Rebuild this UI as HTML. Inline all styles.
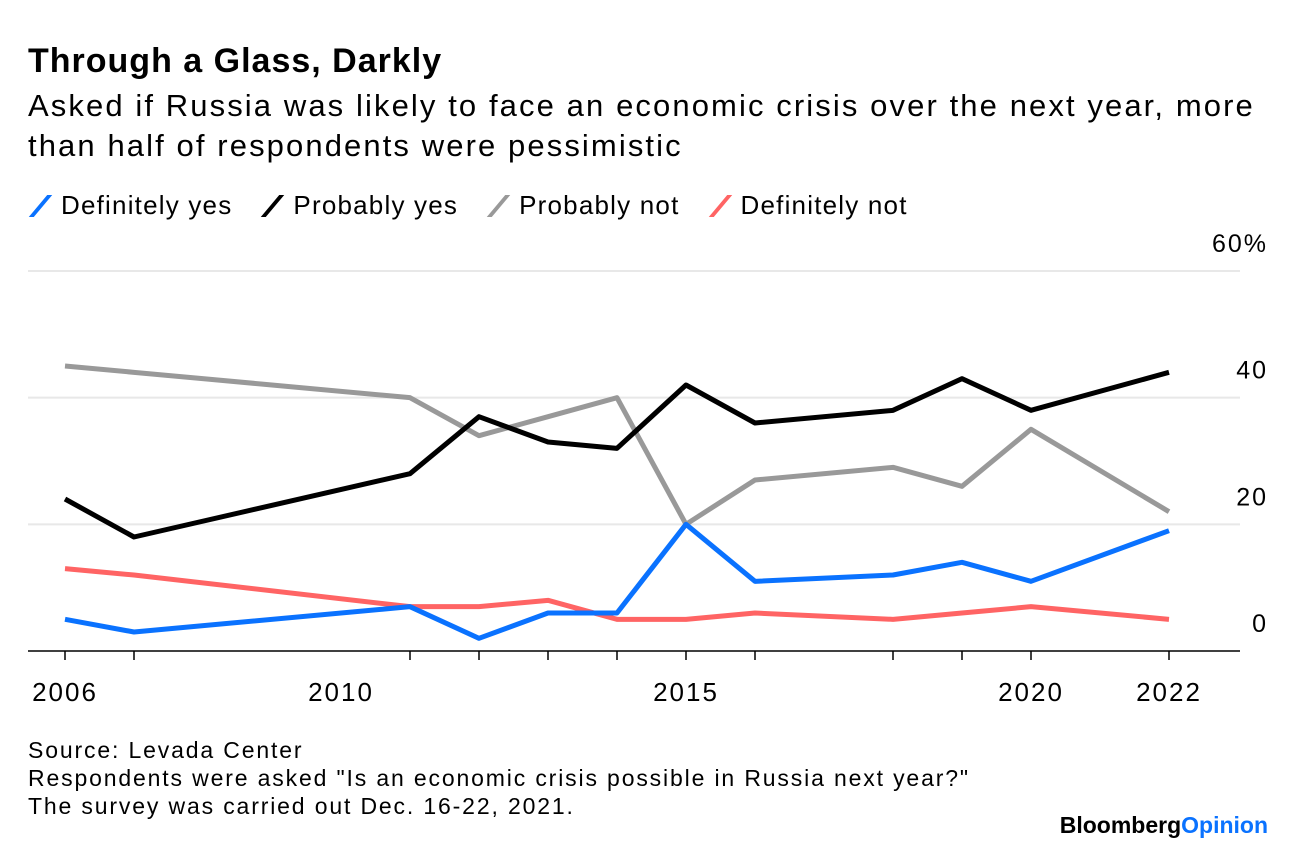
<!DOCTYPE html>
<html><head><meta charset="utf-8"><style>
body{margin:0;width:1296px;height:850px;background:#fff;font-family:"Liberation Sans",sans-serif;overflow:hidden;position:relative}
.t{position:absolute;left:28px;top:42px;font-size:34px;font-weight:bold;letter-spacing:1px;color:#000}
.s{position:absolute;left:28px;top:86px;font-size:31px;letter-spacing:2.1px;line-height:40px;color:#000;width:1262px}
.lg{position:absolute;top:190px;left:28px;font-size:26px;letter-spacing:1.2px;display:flex}
.lg span{display:inline-flex;align-items:center;margin-right:28px}
.lg i{display:inline-block;width:5px;height:22px;transform:skewX(-40deg);margin:0 18px 0 10px}
.f{position:absolute;left:28px;top:736px;font-size:23px;letter-spacing:1.85px;line-height:28px}
.b{position:absolute;right:28px;top:812px;font-size:23px;font-weight:bold;letter-spacing:0px}
</style></head><body>
<div class="t">Through a Glass, Darkly</div>
<div class="s">Asked if Russia was likely to face an economic crisis over the next year, more than half of respondents were pessimistic</div>
<div class="lg">
<span><i style="background:#0a72ff"></i>Definitely yes</span>
<span><i style="background:#000"></i>Probably yes</span>
<span><i style="background:#999"></i>Probably not</span>
<span><i style="background:#ff6464"></i>Definitely not</span>
</div>
<svg id="c" width="1296" height="850" style="position:absolute;left:0;top:0"></svg>
<div class="f">Source: Levada Center<br>Respondents were asked "Is an economic crisis possible in Russia next year?"<br>The survey was carried out Dec. 16-22, 2021.</div>
<div class="b">Bloomberg<span style="color:#0a72ff">Opinion</span></div>
<script>
const years=[2006,2007,2011,2012,2013,2014,2015,2016,2018,2019,2020,2022];
const definitelyYes=[5,3,7,2,6,6,20,11,12,14,11,19];
const probablyYes=[24,18,28,37,33,32,42,36,38,43,38,44];
const probablyNot=[45,44,40,34,37,40,20,27,29,26,35,22];
const definitelyNot=[13,12,7,7,8,5,5,6,5,6,7,5];
const yTicks=[0,20,40,60];
const yTickLabels=["0","20","40","60%"];
const xTicks=[2006,2010,2015,2020,2022];
const NS="http://www.w3.org/2000/svg",svg=document.getElementById('c');
const x=v=>65+(v-2006)*(1169-65)/16;
const y=v=>651-v*(651-271)/60;
function mk(t,a){const e=document.createElementNS(NS,t);for(const k in a)e.setAttribute(k,a[k]);svg.appendChild(e);return e;}
yTicks.forEach((t,i)=>{
 if(t>0){const g=mk('line',{x1:28,x2:1240,y1:y(t),y2:y(t),stroke:'#e8e8e8','stroke-width':2});
 
 }
 const l=mk('text',{x:1268,y:y(t)-19,'text-anchor':'end','font-size':25,'letter-spacing':2,'font-family':'Liberation Sans'});
 l.textContent=yTickLabels[i];
 
 
});
const ax=mk('line',{x1:28,x2:1240,y1:651,y2:651,stroke:'#000','stroke-width':1.5});


years.forEach(v=>{const t=mk('line',{x1:x(v),x2:x(v),y1:651,y2:660,stroke:'#000','stroke-width':1.5});
 
 });
xTicks.forEach(v=>{const l=mk('text',{x:x(v),y:701,'text-anchor':'middle','font-size':26,'letter-spacing':2,'font-family':'Liberation Sans'});
 l.textContent=v;
 
 });
[[probablyNot,'#999','probably-not'],[definitelyNot,'#ff6464','definitely-not'],[probablyYes,'#000','probably-yes'],[definitelyYes,'#0a72ff','definitely-yes']].forEach(([d,c,n])=>{
 const p=mk('polyline',{points:d.map((v,i)=>x(years[i])+','+y(v)).join(' '),fill:'none',stroke:c,'stroke-width':5,'stroke-linejoin':'round'});
 
 
});
</script>
</body></html>
